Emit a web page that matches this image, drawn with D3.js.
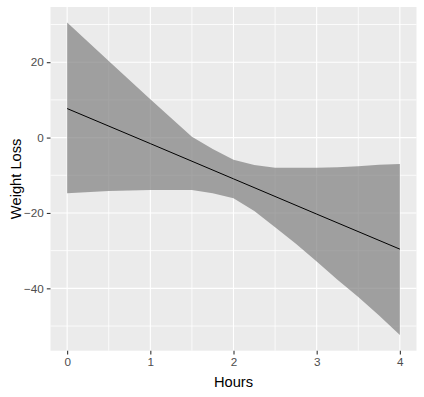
<!DOCTYPE html>
<html>
<head>
<meta charset="utf-8">
<script src="https://cdn.jsdelivr.net/npm/d3@7"></script>
<style>
  body { margin: 0; background: #ffffff; }
  svg { display: block; }
</style>
</head>
<body>
<script>
// fitted line (Hours -> Weight Loss)
const lineHours = [0, 1, 2, 3, 4];
const lineValues = [7.7, -1.6, -10.95, -20.3, -29.6];

// band around the line
const ribbonHours = [0, 0.5, 1, 1.5, 1.75, 2, 2.25, 2.5, 2.75, 3, 3.25, 3.5, 3.75, 4];
const ribbonUpper = [30.5, 20.3, 10.2, 0.2, -3.0, -5.9, -7.3, -8.0, -8.0, -8.0, -7.9, -7.6, -7.2, -7.0];
const ribbonLower = [-14.8, -14.2, -13.9, -13.9, -14.8, -16.1, -19.5, -23.8, -28.2, -32.9, -37.7, -42.3, -47.2, -52.4];

const xTicks = [0, 1, 2, 3, 4];
const yTicks = [-40, -20, 0, 20];

const width = 424, height = 397;
const panel = {left: 50.5, right: 416.5, top: 7, bottom: 350.7};

const svg = d3.select("body").append("svg")
    .attr("width", width)
    .attr("height", height);

// ggplot-like 5% expansion
const xExt = d3.extent(ribbonHours);
const yExt = [d3.min(ribbonLower), d3.max(ribbonUpper)];
const xPad = (xExt[1] - xExt[0]) * 0.05;
const yPad = (yExt[1] - yExt[0]) * 0.05;

const x = d3.scaleLinear()
    .domain([xExt[0] - xPad, xExt[1] + xPad])
    .range([panel.left, panel.right]);
const y = d3.scaleLinear()
    .domain([yExt[0] - yPad, yExt[1] + yPad])
    .range([panel.bottom, panel.top]);

// panel background
svg.append("rect")
    .attr("x", panel.left)
    .attr("y", panel.top)
    .attr("width", panel.right - panel.left)
    .attr("height", panel.bottom - panel.top)
    .attr("fill", "#ebebeb");

// minor grid
const xMinor = [0.5, 1.5, 2.5, 3.5];
const yMinor = [-50, -30, -10, 10, 30];
svg.selectAll(".xminor").data(xMinor).enter().append("line")
    .attr("x1", d => x(d)).attr("x2", d => x(d))
    .attr("y1", panel.top).attr("y2", panel.bottom)
    .attr("stroke", "#ffffff").attr("stroke-width", 0.8);
svg.selectAll(".yminor").data(yMinor).enter().append("line")
    .attr("x1", panel.left).attr("x2", panel.right)
    .attr("y1", d => y(d)).attr("y2", d => y(d))
    .attr("stroke", "#ffffff").attr("stroke-width", 0.8);

// major grid
svg.selectAll(".xmajor").data(xTicks).enter().append("line")
    .attr("x1", d => x(d)).attr("x2", d => x(d))
    .attr("y1", panel.top).attr("y2", panel.bottom)
    .attr("stroke", "#ffffff").attr("stroke-width", 1.1);
svg.selectAll(".ymajor").data(yTicks).enter().append("line")
    .attr("x1", panel.left).attr("x2", panel.right)
    .attr("y1", d => y(d)).attr("y2", d => y(d))
    .attr("stroke", "#ffffff").attr("stroke-width", 1.1);

// ribbon
const ribbon = ribbonHours.map((h, i) => ({h: h, lo: ribbonLower[i], hi: ribbonUpper[i]}));
const area = d3.area()
    .x(d => x(d.h))
    .y0(d => y(d.lo))
    .y1(d => y(d.hi));
svg.append("path")
    .attr("d", area(ribbon))
    .attr("fill", "#7f7f7f")
    .attr("fill-opacity", 0.7);

// line
const pts = lineHours.map((h, i) => ({h: h, v: lineValues[i]}));
svg.append("path")
    .attr("d", d3.line().x(d => x(d.h)).y(d => y(d.v))(pts))
    .attr("fill", "none")
    .attr("stroke", "#000000")
    .attr("stroke-width", 1);

// axes
const xAxis = svg.append("g")
    .attr("transform", `translate(0,${panel.bottom})`)
    .call(d3.axisBottom(x).tickValues(xTicks).tickSize(3.7).tickPadding(3).tickFormat(d3.format("d")));
const yAxis = svg.append("g")
    .attr("transform", `translate(${panel.left},0)`)
    .call(d3.axisLeft(y).tickValues(yTicks).tickSize(3.7).tickPadding(3).tickFormat(d3.format("d")));

[xAxis, yAxis].forEach(g => {
    g.select(".domain").remove();
    g.selectAll(".tick line").attr("stroke", "#333333").attr("stroke-width", 1.1);
    g.selectAll(".tick text")
        .attr("fill", "#4d4d4d")
        .attr("font-family", "Liberation Sans, Arial, sans-serif")
        .attr("font-size", 11.7);
});
xAxis.selectAll(".tick text").attr("dy", "0.75em");

// axis titles
svg.append("text")
    .attr("x", (panel.left + panel.right) / 2)
    .attr("y", 387)
    .attr("text-anchor", "middle")
    .attr("font-family", "Liberation Sans, Arial, sans-serif")
    .attr("font-size", 14.7)
    .attr("fill", "#000000")
    .text("Hours");

svg.append("text")
    .attr("transform", `translate(21,${(panel.top + panel.bottom) / 2}) rotate(-90)`)
    .attr("text-anchor", "middle")
    .attr("font-family", "Liberation Sans, Arial, sans-serif")
    .attr("font-size", 14.7)
    .attr("fill", "#000000")
    .text("Weight Loss");
</script>
</body>
</html>
